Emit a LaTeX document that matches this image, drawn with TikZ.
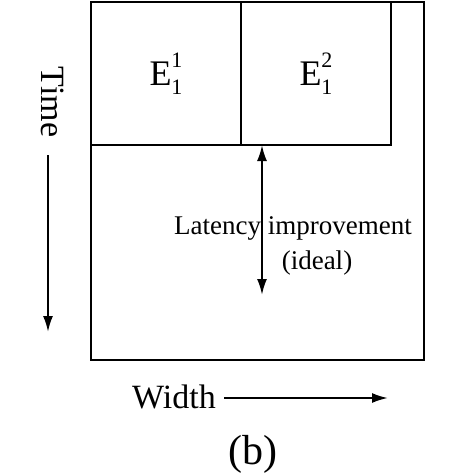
\documentclass[tikz,border=0pt]{standalone}
\usepackage{fontspec}
\setmainfont{Liberation Serif}
\usepackage{tikz}
\usetikzlibrary{arrows,arrows.meta,positioning,calc}

% E with a subscript and a superscript, set by hand
\newcommand{\slotname}[2]{E\rlap{\raisebox{18pt}{\fontsize{22}{22}\selectfont #2}}\raisebox{-9pt}{\fontsize{22}{22}\selectfont #1}}

\begin{document}
\begin{tikzpicture}[x=1pt,y=-1pt,>={Latex[length=16pt,width=10pt]},
    slot/.style={draw,line width=2.8pt,outer sep=0pt,minimum width=150pt,minimum height=143pt,anchor=north west,inner sep=0pt,font=\fontsize{36}{40}\selectfont},
    axis/.style={->,line width=2pt},
    lbl/.style={inner sep=0pt,font=\fontsize{34}{38}\selectfont}]
  \useasboundingbox (0,0) rectangle (474,474);

  % Two execution slots in the top row
  \node[slot] (e11) at (91,2) {\slotname{1}{1}};
  \node[slot] (e12) at (e11.north east) {\slotname{1}{2}};

  % Outer frame
  \coordinate (corner) at (424,360);
  \draw[line width=2.8pt] (e11.north west) rectangle (corner);

  % Latency arrow
  \coordinate (lat) at (262,295);
  \draw[<->,line width=2.2pt] (lat |- e12.south) -- (lat);
  \node[inner sep=0pt,font=\fontsize{27}{30}\selectfont] (latency) at (293,228) {Latency improvement};
  \node[inner sep=0pt,font=\fontsize{27}{30}\selectfont] (ideal) at (317,263) {(ideal)};

  % Axes
  \node[lbl,rotate=-90] (time) at (53,102) {Time};
  \coordinate (t0) at (48,155);
  \coordinate (t1) at (48,332);
  \draw[axis] (t0) -- (t1);

  \node[lbl] (width) at (174,397) {Width};
  \coordinate (w1) at (388,398);
  \draw[axis] ([xshift=8pt]width.east |- w1) -- (w1);

  \node[inner sep=0pt,anchor=base,font=\fontsize{42}{46}\selectfont] (caption) at (253,464) {(b)};
\end{tikzpicture}
\end{document}
